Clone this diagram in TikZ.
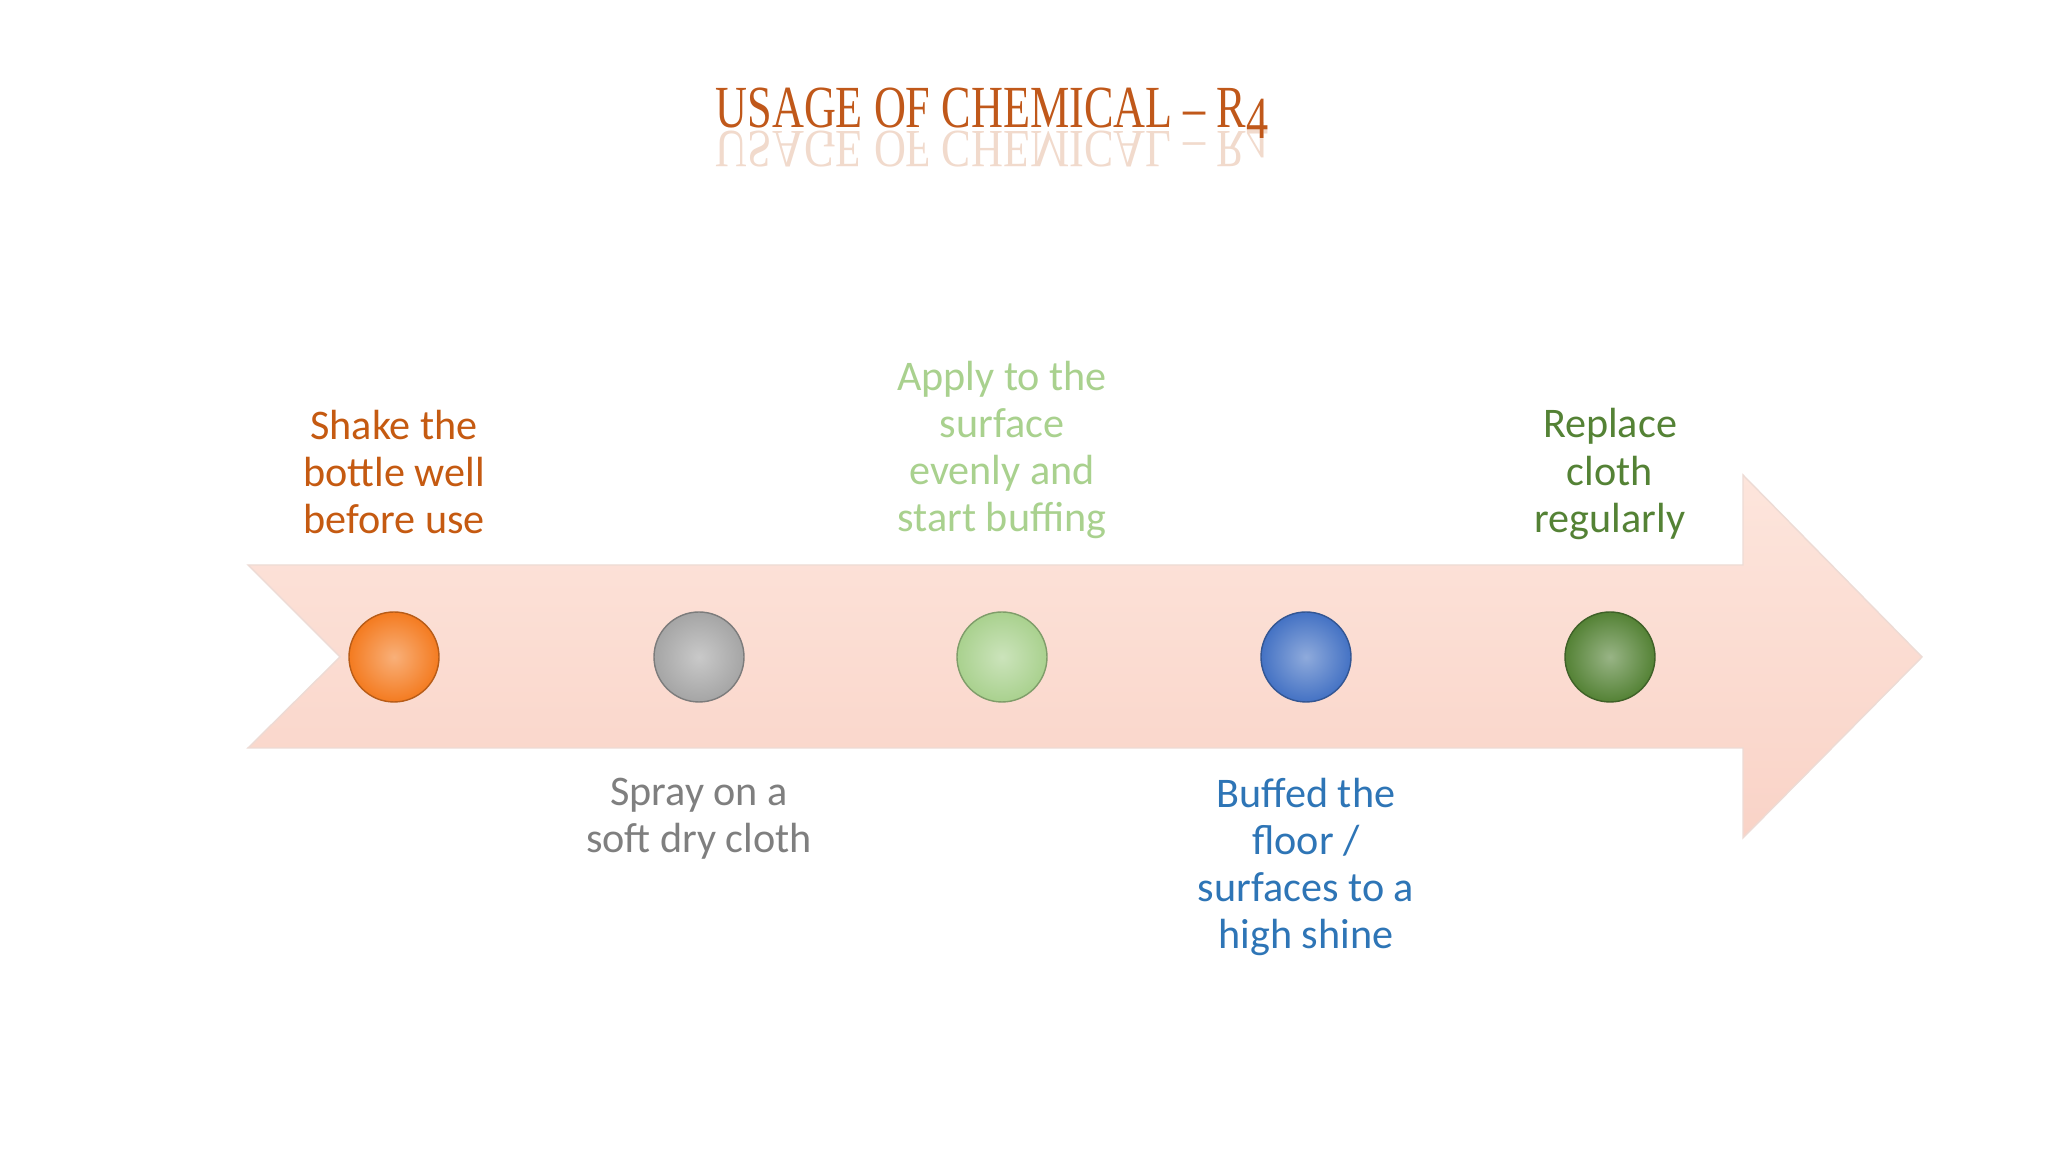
\documentclass[tikz,border=0pt]{standalone}
\usepackage{fontspec}
\setmainfont{Carlito}
\newfontfamily\titlefont{Liberation Serif}
\definecolor{peachtop}{HTML}{FDE5DC}
\definecolor{peachbot}{HTML}{F9D3C7}
\definecolor{titleorange}{HTML}{C0581A}
\definecolor{stepone}{HTML}{C55A11}
\definecolor{steptwo}{HTML}{7F7F7F}
\definecolor{stepthree}{HTML}{A9D18E}
\definecolor{stepfour}{HTML}{2E75B6}
\definecolor{stepfive}{HTML}{548235}
\definecolor{dotone}{HTML}{F47B20}
\definecolor{dottwo}{HTML}{A5A5A5}
\definecolor{dotthree}{HTML}{A9D18E}
\definecolor{dotfour}{HTML}{4472C4}
\definecolor{dotfive}{HTML}{548235}
\begin{document}
\begin{tikzpicture}[
  steptext/.style={align=center, font=\fontsize{12}{13.4}\selectfont},
  dot/.style={circle, minimum size=0.9cm, inner sep=0pt, draw=#1!75!black, line width=0.4pt,
    inner color=#1!60!white, outer color=#1}]
\useasboundingbox[fill=white] (0,0) rectangle (20.48,11.52);
% big arrow
\draw[peachbot!80!gray!60, line width=0.4pt, top color=peachtop, bottom color=peachbot]
  (2.48,5.87) -- (3.40,4.95) -- (2.48,4.04) -- (17.43,4.04) -- (17.43,3.14)
  -- (19.22,4.95) -- (17.43,6.77) -- (17.43,5.87) -- cycle;
% title and its reflection
\node[anchor=base, text=titleorange, font=\titlefont\fontsize{17}{17}\selectfont, xscale=0.74] (title) at (9.92,10.24) {USAGE OF CHEMICAL \textendash{} R\raisebox{-0.18em}{4}};
\node[anchor=base, text=titleorange, opacity=0.22, font=\titlefont\fontsize{17}{17}\selectfont, xscale=0.74, yscale=-0.9] (titlemirror) at (9.92,10.2) {USAGE OF CHEMICAL \textendash{} R\raisebox{-0.18em}{4}};
% dots
\node[dot=dotone] (d1) at (3.94,4.95) {};
\node[dot=dottwo] (d2) at (6.99,4.95) {};
\node[dot=dotthree] (d3) at (10.02,4.95) {};
\node[dot=dotfour] (d4) at (13.06,4.95) {};
\node[dot=dotfive] (d5) at (16.10,4.95) {};
% labels
\node[steptext, text=stepone] (shake) at (3.94,6.80) {Shake the\\bottle well\\before use};
\node[steptext, text=steptwo] (spray) at (6.99,3.33) {Spray on a\\soft dry cloth};
\node[steptext, text=stepthree] (apply) at (10.02,7.02) {Apply to the\\surface\\evenly and\\start buffing};
\node[steptext, text=stepfour] (buff) at (13.06,2.85) {Buffed the\\floor /\\surfaces to a\\high shine};
\node[steptext, text=stepfive] (replace) at (16.10,6.78) {Replace\\cloth\\regularly};
\end{tikzpicture}
\end{document}
